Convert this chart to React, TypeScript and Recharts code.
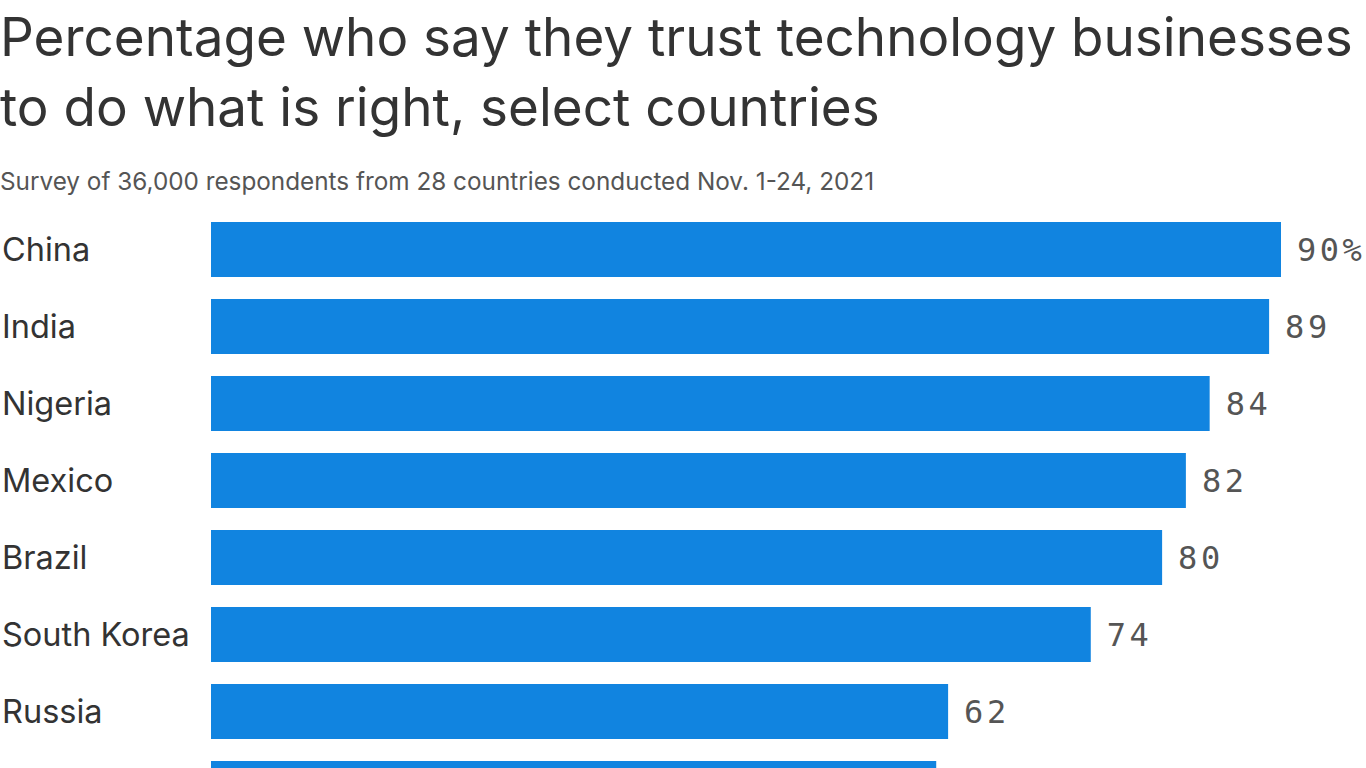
import * as React from "react";
import { BarChart, Bar, XAxis, YAxis, LabelList } from "recharts";

const countries = ["China", "India", "Nigeria", "Mexico", "Brazil", "South Korea", "Russia", "Colombia"];
const trustShare = [90, 89, 84, 82, 80, 74, 62, 61];

const data = countries.map((name, i) => ({ name, value: trustShare[i] }));

const CountryTick = (props: any) => {
  const { y, payload } = props;
  return (
    <text x={2} y={y} dy={11} textAnchor="start" fill="#333" fontSize={32.5} fontFamily="Inter, sans-serif">
      {payload.value}
    </text>
  );
};

export default function App() {
  return (
    <div
      style={{
        position: "absolute",
        left: 0,
        top: 0,
        width: 1366,
        height: 768,
        overflow: "hidden",
        background: "#fff",
        fontFamily: "Inter, sans-serif",
      }}
    >
      <div style={{ position: "absolute", left: 0, top: 2, fontSize: 53, lineHeight: "70px", color: "#333", whiteSpace: "nowrap" }}>
        Percentage who say they trust technology businesses
        <br />
        to do what is right, select countries
      </div>
      <div style={{ position: "absolute", left: 0, top: 166, fontSize: 24.3, color: "#555", whiteSpace: "nowrap" }}>
        Survey of 36,000 respondents from 28 countries conducted Nov. 1-24, 2021
      </div>
      <div style={{ position: "absolute", left: 0, top: 211 }}>
        <BarChart
          width={1366}
          height={616}
          data={data}
          layout="vertical"
          margin={{ top: 0, right: 85, bottom: 0, left: 0 }}
        >
          <XAxis type="number" domain={[0, 90]} hide />
          <YAxis type="category" dataKey="name" width={211} axisLine={false} tickLine={false} tick={<CountryTick />} />
          <Bar dataKey="value" fill="#1184e0" barSize={55} isAnimationActive={false}>
            <LabelList
              dataKey="value"
              position="right"
              offset={16}
              formatter={(v: any) => (v === 90 ? `${v}%` : `${v}`)}
              style={{ fill: "#555", fontSize: 32, letterSpacing: 3.5, fontFamily: "DejaVu Sans Mono, monospace" }}
            />
          </Bar>
        </BarChart>
      </div>
    </div>
  );
}
